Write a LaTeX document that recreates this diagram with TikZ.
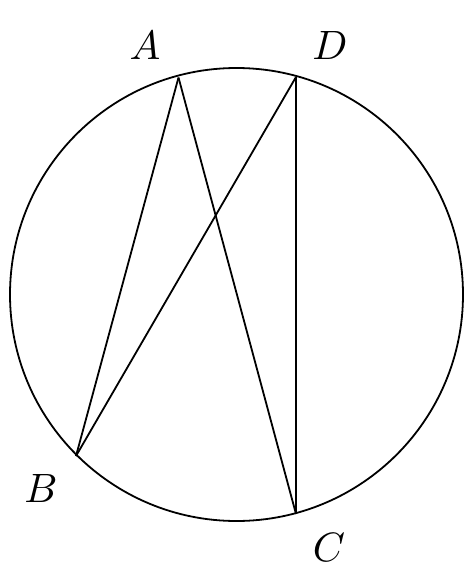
\documentclass[tikz,border=0pt]{standalone}
\begin{document}
\begin{tikzpicture}[x=1pt,y=-1pt,line width=1.8pt,
  lbl/.style={scale=4.1,inner sep=0pt}]
\useasboundingbox (0,0) rectangle (474,571);
\coordinate (O) at (236.5,294.5);
\draw (O) circle (226.5);
\coordinate (A) at (178.5,77.5);
\coordinate (D) at (296,77);
\coordinate (B) at (76,456);
\coordinate (C) at (296,514);
\draw (A) -- (B);
\draw (A) -- (C);
\draw (D) -- (B);
\draw (D) -- (C);
\node[lbl] (lA) at (145,45) {$A$};
\node[lbl] (lD) at (330,45) {$D$};
\node[lbl] (lB) at (41,488) {$B$};
\node[lbl] (lC) at (329,547) {$C$};
\end{tikzpicture}
\end{document}
